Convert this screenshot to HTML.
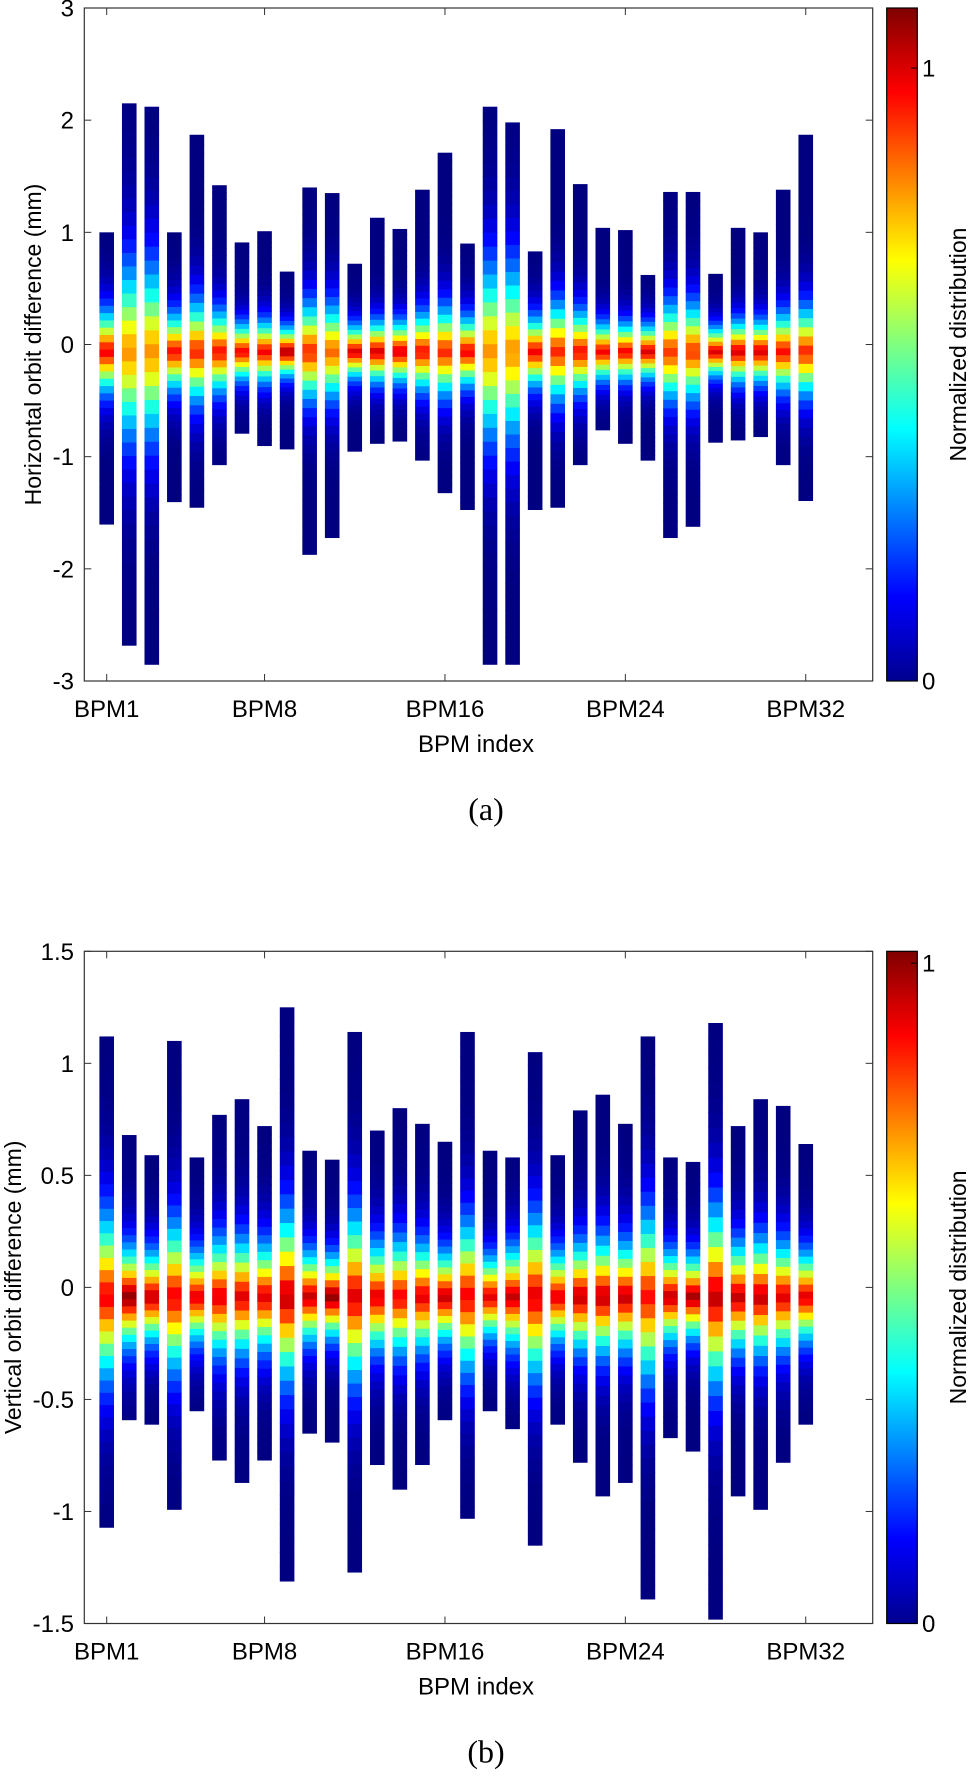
<!DOCTYPE html>
<html><head><meta charset="utf-8"><style>
html,body{margin:0;padding:0;background:#fff;}
svg{display:block;font-family:"Liberation Sans",sans-serif;}
</style></head><body>
<svg id="fig" width="969" height="1777" viewBox="0 0 969 1777" xmlns="http://www.w3.org/2000/svg">
<defs>
<linearGradient id="jet" x1="0" y1="1" x2="0" y2="0">
<stop offset="0" stop-color="#00008f"/><stop offset="0.125" stop-color="#0000ff"/><stop offset="0.375" stop-color="#00ffff"/><stop offset="0.625" stop-color="#ffff00"/><stop offset="0.875" stop-color="#ff0000"/><stop offset="1" stop-color="#800000"/>
</linearGradient>
</defs>
<g id="panelA"></g>
<g id="panelB"></g>
</svg>
<script>
const bpmTickIdx = [1, 8, 16, 24, 32];
const bpmTickLabels = ["BPM1", "BPM8", "BPM16", "BPM24", "BPM32"];
const aYTicks = [3, 2, 1, 0, -1, -2, -3];
const aYTickLabels = ["3", "2", "1", "0", "-1", "-2", "-3"];
const bYTicks = [1.5, 1, 0.5, 0, -0.5, -1, -1.5];
const bYTickLabels = ["1.5", "1", "0.5", "0", "-0.5", "-1", "-1.5"];
const aTop = [1.0,2.15,2.12,1.0,1.87,1.42,0.91,1.01,0.65,1.4,1.35,0.72,1.13,1.03,1.38,1.71,0.9,2.12,1.98,0.83,1.92,1.43,1.04,1.02,0.62,1.36,1.36,0.63,1.04,1.0,1.38,1.87];
const aBottom = [-1.6,-2.68,-2.85,-1.4,-1.45,-1.07,-0.79,-0.9,-0.93,-1.87,-1.72,-0.95,-0.88,-0.86,-1.03,-1.32,-1.47,-2.85,-2.85,-1.47,-1.45,-1.07,-0.76,-0.88,-1.03,-1.72,-1.62,-0.87,-0.85,-0.82,-1.07,-1.39];
const aSigma = [0.2,0.44,0.44,0.19,0.25,0.2,0.14,0.15,0.12,0.24,0.24,0.13,0.15,0.15,0.19,0.22,0.17,0.44,0.44,0.17,0.24,0.2,0.14,0.14,0.13,0.24,0.24,0.12,0.15,0.15,0.19,0.22];
const aPeak = [0.97,0.8,0.8,0.95,0.92,0.95,0.97,0.97,1.05,0.92,0.85,1.0,1.0,1.0,0.95,0.92,0.97,0.8,0.8,0.97,0.92,0.95,0.97,0.97,1.0,0.9,0.9,1.0,1.0,1.0,0.95,0.92];
const aCenter = -0.06;
const bTop = [1.12,0.68,0.59,1.1,0.58,0.77,0.84,0.72,1.25,0.61,0.57,1.14,0.7,0.8,0.73,0.65,1.14,0.61,0.58,1.05,0.59,0.79,0.86,0.73,1.12,0.58,0.56,1.18,0.72,0.84,0.81,0.64];
const bBottom = [-1.07,-0.59,-0.61,-0.99,-0.55,-0.77,-0.87,-0.77,-1.31,-0.65,-0.69,-1.27,-0.79,-0.9,-0.79,-0.59,-1.03,-0.55,-0.63,-1.15,-0.61,-0.78,-0.93,-0.87,-1.39,-0.67,-0.73,-1.48,-0.93,-0.99,-0.78,-0.61];
const bSigma = [0.2,0.12,0.11,0.18,0.11,0.14,0.14,0.13,0.2,0.11,0.1,0.2,0.13,0.14,0.13,0.11,0.18,0.1,0.12,0.19,0.11,0.13,0.14,0.13,0.2,0.11,0.1,0.21,0.13,0.14,0.13,0.11];
const bPeak = [0.9,1.0,0.95,0.9,0.92,0.92,0.92,0.92,0.95,0.95,1.0,0.92,0.92,0.9,0.92,0.95,0.9,0.92,0.95,0.92,0.92,0.95,0.95,0.95,0.88,0.95,0.98,0.95,0.95,0.95,0.92,0.92];
const bCenter = -0.04;

const NS = "http://www.w3.org/2000/svg";
function mk(parent, tag, attrs, text){
  const e = document.createElementNS(NS, tag);
  for (const k in attrs) e.setAttribute(k, attrs[k]);
  if (text !== undefined) e.textContent = text;
  parent.appendChild(e); return e;
}
function clamp(v){return Math.max(0, Math.min(1, v));}
function jet(t){
  t = clamp(t);
  const r = clamp(1.5 - Math.abs(4*t - 3)), g = clamp(1.5 - Math.abs(4*t - 2)), b = clamp(1.5 - Math.abs(4*t - 1));
  return "rgb(" + Math.round(r*255) + "," + Math.round(g*255) + "," + Math.round(b*255) + ")";
}

function drawPanel(g, cfg){
  const L = 84.3, R = 872.7, T = cfg.top, B = cfg.bottom;
  const yScale = v => T + (cfg.ymax - v) / (cfg.ymax - cfg.ymin) * (B - T);
  const xScale = i => 106.7 + (i - 1) * 22.55;
  const barsG = mk(g, "g", {});
  
  
  const N = 40;
  for (let i = 0; i < cfg.top_.length; i++){
    const bg = mk(barsG, "g", {});
    
    
    const hi = cfg.top_[i], lo = cfg.bot_[i], s = cfg.sigma[i], pk = cfg.peak[i];
    const cx = xScale(i + 1);
    const step = (hi - lo) / N;
    for (let k = 0; k < N; k++){
      const v0 = lo + k * step, v1 = v0 + step, vm = (v0 + v1) / 2;
      const d = Math.abs(vm - cfg.center) / s;
      const val = pk * Math.exp(-0.5 * Math.pow(d, 1.5));
      const y1 = yScale(v1), y0 = yScale(v0);
      mk(bg, "rect", {x: (cx - 7.3).toFixed(2), y: y1.toFixed(2), width: 14.6, height: (y0 - y1 + 0.6).toFixed(2), fill: jet(val / cfg.cmax)});
    }
  }
  const ax = mk(g, "rect", {x: L, y: T, width: R - L, height: B - T, fill: "none", stroke: "#333", "stroke-width": 1.2});
  
  
  for (let j = 0; j < cfg.yTicks.length; j++){
    const y = yScale(cfg.yTicks[j]);
    mk(g, "line", {x1: L, x2: L + 7, y1: y, y2: y, stroke: "#333", "stroke-width": 1});
    mk(g, "line", {x1: R, x2: R - 7, y1: y, y2: y, stroke: "#333", "stroke-width": 1});
    const t = mk(g, "text", {x: 74, y: y + 8.5, "text-anchor": "end", "font-size": 24, fill: "#000"}, cfg.yLabels[j]);
    
    
  }
  for (let j = 0; j < bpmTickIdx.length; j++){
    const x = xScale(bpmTickIdx[j]);
    mk(g, "line", {x1: x, x2: x, y1: B, y2: B - 7, stroke: "#333", "stroke-width": 1});
    mk(g, "line", {x1: x, x2: x, y1: T, y2: T + 7, stroke: "#333", "stroke-width": 1});
    const t = mk(g, "text", {x: x, y: B + 36, "text-anchor": "middle", "font-size": 24, fill: "#000"}, bpmTickLabels[j]);
    
    
  }
  const xt = mk(g, "text", {x: 476, y: B + 71, "text-anchor": "middle", "font-size": 24, fill: "#000"}, "BPM index");
  
  
  const yc = (T + B) / 2;
  const yt = mk(g, "text", {x: cfg.ylabX, y: yc, "text-anchor": "middle", "font-size": 23, fill: "#000", transform: "rotate(-90 " + cfg.ylabX + " " + yc + ")", "dominant-baseline": "central"}, cfg.ylabel);
  
  
  const cb = mk(g, "rect", {x: 886.7, y: T, width: 30.6, height: B - T, fill: "url(#jet)", stroke: "#000", "stroke-width": 1.2});
  
  
  const y1 = T + (cfg.cmax - 1) / cfg.cmax * (B - T);
  mk(g, "line", {x1: 917.3, x2: 911, y1: y1, y2: y1, stroke: "#000", "stroke-width": 1});
  const c1 = mk(g, "text", {x: 922, y: y1 + 8.5, "font-size": 24, fill: "#000"}, "1");
  
  
  const c0 = mk(g, "text", {x: 922, y: B + 8.5, "font-size": 24, fill: "#000"}, "0");
  
  
  const ct = mk(g, "text", {x: 958, y: yc, "text-anchor": "middle", "font-size": 23, fill: "#000", transform: "rotate(-90 958 " + yc + ")", "dominant-baseline": "central"}, "Normalized distribution");
  
  
  const cap = mk(g, "text", {x: 486, y: B + 139, "text-anchor": "middle", "font-size": 32, fill: "#000", "font-family": "Liberation Serif, serif"}, cfg.caption);
  
  
}

drawPanel(document.getElementById("panelA"), {
  top: 8, bottom: 681, ymax: 3, ymin: -3, yTicks: aYTicks, yLabels: aYTickLabels,
  top_: aTop, bot_: aBottom, sigma: aSigma, peak: aPeak, center: aCenter, cmax: 1.098,
  ylabel: "Horizontal orbit difference (mm)", ylabX: 33, caption: "(a)"
});
drawPanel(document.getElementById("panelB"), {
  top: 951.3, bottom: 1623.5, ymax: 1.5, ymin: -1.5, yTicks: bYTicks, yLabels: bYTickLabels,
  top_: bTop, bot_: bBottom, sigma: bSigma, peak: bPeak, center: bCenter, cmax: 1.018,
  ylabel: "Vertical orbit difference (mm)", ylabX: 13, caption: "(b)"
});
</script>
</body></html>
